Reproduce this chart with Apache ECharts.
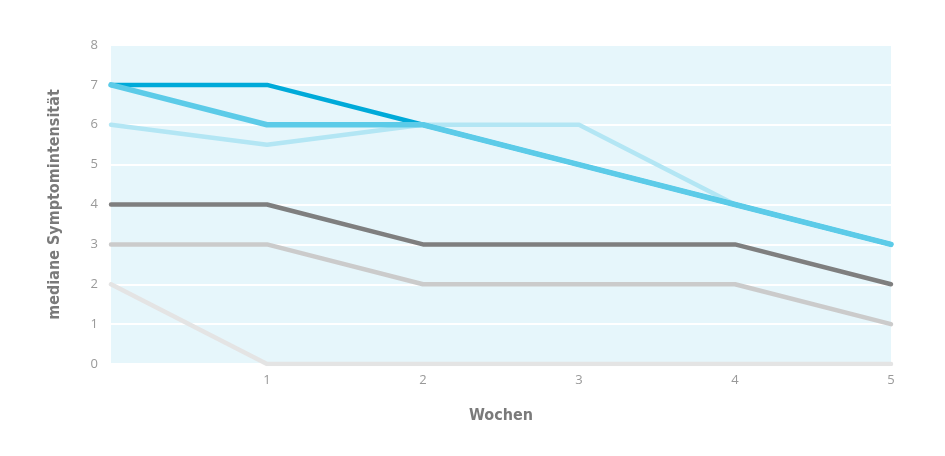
<!DOCTYPE html>
<html>
<head>
<meta charset="utf-8">
<script src="https://cdn.jsdelivr.net/npm/echarts@6/dist/echarts.min.js"></script>
<style>
	html, body { margin: 0; padding: 0; background: #fff; }
	#main { width: 945px; height: 456px; }
</style>
</head>
<body>
<div id="main"></div>
<script type="text/javascript">
	// Wochen
	var weeks = [0, 1, 2, 3, 4, 5];
	// mediane Symptomintensität je Gruppe
	var darkBlue = [7, 7, 6, 5, 4, 3];
	var midBlue = [7, 6, 6, 5, 4, 3];
	var lightBlue = [6, 5.5, 6, 6, 4, 3];
	var darkGrey = [4, 4, 3, 3, 3, 2];
	var lightGrey = [3, 3, 2, 2, 2, 1];
	var paleGrey = [2, 0, 0, 0, 0, 0];

	function pairs(vals) {
		var out = [];
		for (var i = 0; i < weeks.length; i++) {
			out.push([weeks[i], vals[i]]);
		}
		return out;
	}

	function line(vals, color, z, w) {
		return {
			type: 'line',
			data: pairs(vals),
			symbol: 'none',
			z: z,
			lineStyle: { color: color, width: w || 4.5, cap: 'round', join: 'round' },
			silent: true
		};
	}

	var titleFont = { fontFamily: 'DejaVu Sans Condensed, Roboto, sans-serif', fontWeight: 'bold', fontSize: 16, color: '#7a7a7a' };

	var myChart = echarts.init(document.getElementById('main'));

	var option = {
		animation: false,
		backgroundColor: '#ffffff',
		grid: {
			left: 111, right: 54, top: 45, bottom: 92,
			show: true,
			backgroundColor: '#e6f6fb',
			borderWidth: 0
		},
		xAxis: {
			type: 'value',
			min: 0, max: 5, interval: 1,
			name: 'Wochen',
			nameLocation: 'middle',
			nameGap: 44,
			nameTextStyle: titleFont,
			axisLine: { show: false },
			axisTick: { show: false },
			splitLine: { show: false },
			axisLabel: {
				margin: 10,
				color: '#999999',
				fontFamily: 'Open Sans',
				fontSize: 13,
				formatter: function (v) { return v === 0 ? '' : v; }
			}
		},
		yAxis: {
			type: 'value',
			min: 0, max: 8, interval: 1,
			name: 'mediane Symptomintensität',
			nameLocation: 'middle',
			nameGap: 48,
			nameTextStyle: titleFont,
			axisLine: { show: false },
			axisTick: { show: false },
			splitLine: { show: true, lineStyle: { color: '#ffffff', width: 2 } },
			axisLabel: {
				margin: 13,
				color: '#999999',
				fontFamily: 'Open Sans',
				fontSize: 13
			}
		},
		series: [
			line(paleGrey, '#e4e4e4', 2),
			line(lightGrey, '#cbcbcb', 3),
			line(darkGrey, '#7f7f7f', 4),
			line(lightBlue, '#b3e6f4', 5),
			line(darkBlue, '#00aad9', 6),
			line(midBlue, '#5ccbe8', 7, 5.5)
		]
	};

	myChart.setOption(option);
</script>
</body>
</html>
